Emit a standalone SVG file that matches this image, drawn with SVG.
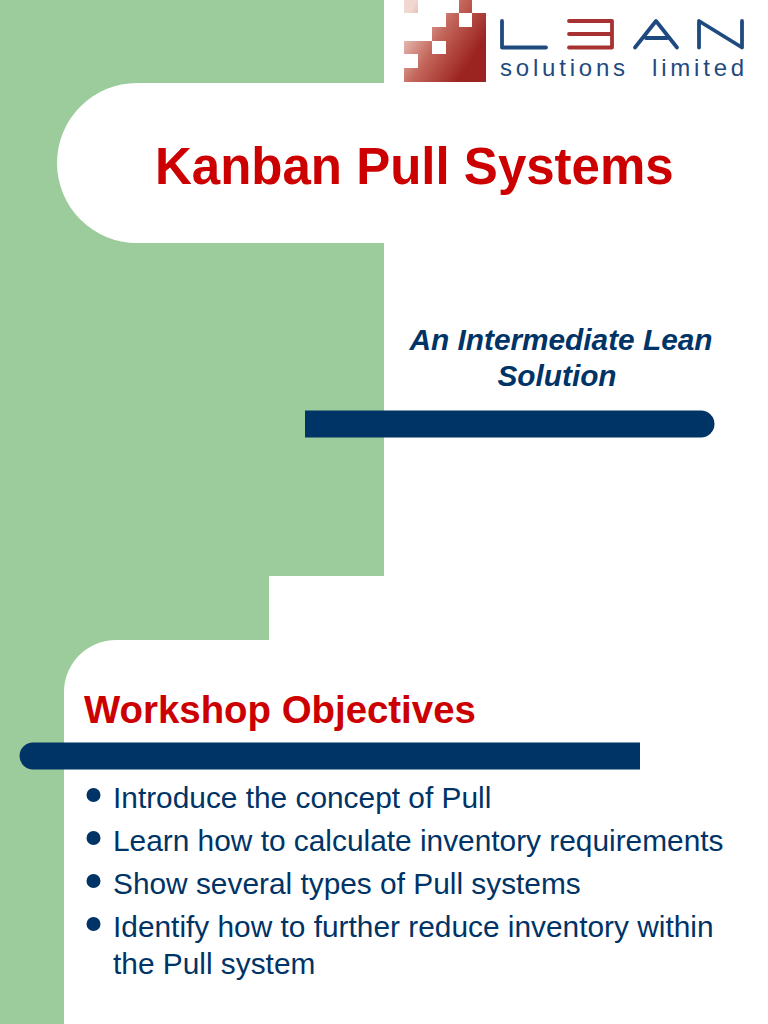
<svg xmlns="http://www.w3.org/2000/svg" width="768" height="1024" viewBox="0 0 768 1024">
<style>
.red{fill:#cc0000;font-family:"Liberation Sans",Arial,sans-serif;font-weight:bold}
.navy{fill:#003366;font-family:"Liberation Sans",Arial,sans-serif}
.bar{fill:#003366}
.bg{fill:#9ccc9c}
.logo{fill:none;stroke:#1f4a80;stroke-width:3.8;stroke-linecap:round;stroke-linejoin:round}
.lt{font-family:"Liberation Sans",Arial,sans-serif;font-size:24px;fill:#1f4a80;letter-spacing:3.800px}
</style>
<defs>
<linearGradient id="g" gradientUnits="userSpaceOnUse" x1="404" y1="20" x2="470" y2="62">
<stop offset="0" stop-color="#f0d8d0"/><stop offset="0.5" stop-color="#c4675c"/><stop offset="1" stop-color="#9c2420"/>
</linearGradient>
</defs>
<rect width="768" height="1024" fill="#fff"/>
<g id="background">
<path class="bg" d="M0 0H384V576H269V700H64V1024H0Z"/>
<path fill="#fff" d="M384 83H137A80 80 0 0 0 137 243H384Z"/>
<path fill="#fff" d="M64 1024V692A52 52 0 0 1 116 640H384V1024Z"/>
</g>
<g id="logo">
<path fill="url(#g)" d="M404 0H418V13H404ZM459 0H472V13H486V82H404V68H418V54H404V41H418H432V27H446V13H459ZM459 13V27H472V13ZM432 41V54H446V41Z" fill-rule="evenodd"/>
<path class="logo" d="M502 21V47.500H546"/>
<path class="logo" style="stroke:#a83232" d="M569 21H612V47.500H569M569 34H612"/>
<path class="logo" d="M635 47.500L656 21L677 47.500M646 38H667"/>
<path class="logo" d="M699 47.500V21L742 47.500V21"/>
<text class="lt" x="500" y="76">solutions</text>
<text class="lt" x="652" y="76">limited</text>
</g>
<g id="title"><text class="red" x="155" y="183.500" font-size="51">Kanban Pull Systems</text></g>
<g id="subtitle">
<text class="navy" x="561" y="350" text-anchor="middle" font-size="29.800" font-weight="bold" font-style="italic">An Intermediate Lean</text>
<text class="navy" x="557" y="386" text-anchor="middle" font-size="29.800" font-weight="bold" font-style="italic">Solution</text>
</g>
<g id="bars">
<path class="bar" d="M305 410.500H701A13.500 13.500 0 0 1 701 437.500H305Z"/>
<path class="bar" d="M640 742.500H33A13.500 13.500 0 0 0 33 769.500H640Z"/>
</g>
<g id="heading"><text class="red" x="84" y="722.500" font-size="38.400">Workshop Objectives</text></g>
<g id="objectives" font-size="29.850">
<circle class="bar" cx="93.500" cy="795" r="7"/><circle class="bar" cx="93.500" cy="838" r="7"/><circle class="bar" cx="93.500" cy="881" r="7"/><circle class="bar" cx="93.500" cy="924" r="7"/>
<text class="navy" x="113" y="808">Introduce the concept of Pull</text>
<text class="navy" x="113" y="851">Learn how to calculate inventory requirements</text>
<text class="navy" x="113" y="894">Show several types of Pull systems</text>
<text class="navy" x="113" y="937">Identify how to further reduce inventory within</text>
<text class="navy" x="113" y="974">the Pull system</text>
</g>
</svg>
